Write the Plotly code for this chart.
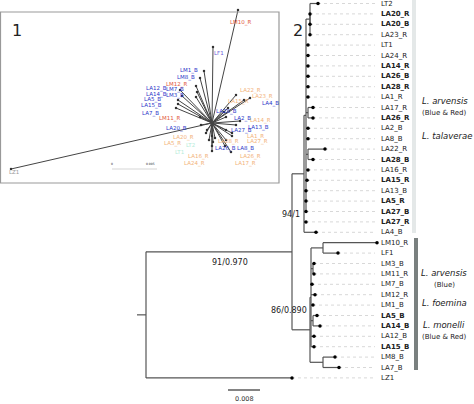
import plotly.graph_objects as go

# ---- Panel 2: tree (node x positions on distance scale, leaves in order) ----
# leaf: (name, x) ; internal: (x, [children])
tree = (146, [
    (292, [
        (304, [
            (306, [
                (310, [("LT2", 318), (310, [("LA20_R", 310), ("LA20_B", 310)]), ("LA23_R", 310)]),
                ("LT1", 308), ("LA24_R", 308), ("LA14_R", 308), ("LA26_B", 308), ("LA28_R", 308),
                ("LA1_R", 308), (308, [("LA17_R", 313), ("LA26_R", 313)]), ("LA2_B", 308), ("LA8_B", 308),
                (308, [("LA22_R", 325), ("LA28_B", 313)]), ("LA16_R", 308), ("LA15_R", 307),
                ("LA13_B", 306), ("LA5_R", 306), ("LA27_B", 306),
            ]),
            ("LA27_R", 306), ("LA4_B", 316),
        ]),
        (310, [
            (311, [
                (323, [("LM10_R", 377), ("LF1", 338)]),
                (313, [("LM3_B", 314), ("LM11_R", 314)]),
                ("LM7_B", 312), ("LM12_R", 315), ("LM1_B", 313),
                (313, [("LA5_B", 317), ("LA14_B", 320)]),
                ("LA12_B", 314), ("LA15_B", 314),
            ]),
            (323, [("LM8_B", 335), ("LA7_B", 339)]),
        ]),
    ]),
    ("LZ1", 292),
])
bold = {"LA20_R", "LA20_B", "LA14_R", "LA26_B", "LA28_R", "LA26_R", "LA28_B", "LA15_R",
        "LA5_R", "LA27_B", "LA27_R", "LA5_B", "LA14_B", "LA15_B"}
y_top, y_step = 3.5, 10.4
label_x = 379

# ---- Panel 1: network (endpoints in network space, label colours) ----
hub = (212, 123)
net_names = ["LM10_R", "LF1", "LM1_B", "LM8_B", "LM12_R", "LA12_B", "LM7_B", "LA14_B", "LM3_B",
             "LA5_B", "LA15_B", "LA7_B", "LM11_R", "LA20_B", "LA20_R", "LA5_R", "LT2", "LT1",
             "LA28_B", "LA22_R", "LA23_R", "LA4_B", "LA15_R", "LA2_B", "LA14_R", "LA13_B",
             "LA27_B", "LA1_R", "LA27_R", "LA28_R", "LA26_B", "LA8_B", "LA16_R", "LA26_R",
             "LA24_R", "LA17_R", "LZ1"]
net_ex = [238, 213, 204, 200, 196, 180, 197, 182, 196, 178, 178, 176, 200, 201, 207, 206, 212,
          209, 224, 236, 244, 250, 228, 226, 240, 236, 226, 232, 232, 215, 213, 226, 212, 225,
          212, 231, 11]
net_ey = [10, 47, 71, 78, 86, 90, 92, 96, 97, 100, 104, 108, 117, 125, 130, 133, 136, 140, 112,
          95, 100, 98, 108, 117, 121, 125, 130, 133, 136, 138, 142, 140, 146, 146, 151, 152, 169]
net_lx = [228, 212, 200, 197, 190, 169, 186, 169, 186, 163, 164, 161, 183, 189, 196, 183, 197,
          186, 214, 238, 250, 260, 226, 232, 248, 246, 229, 245, 245, 216, 213, 235, 211, 238,
          207, 233, 21]
net_ly = [22, 53, 70, 77, 84, 88, 89, 94, 95, 99, 105, 113, 118, 128, 137, 143, 145, 152, 111,
          90, 96, 103, 101, 118, 120, 127, 130, 136, 141, 141, 148, 148, 156, 156, 163, 163, 172]
BLUE, ORANGE, RED, GREEN, GRAY = "#2a35c8", "#f2b27a", "#e2583c", "#b4ecd8", "#999999"
net_col = [RED, "#6a5ad8", BLUE, BLUE, RED, BLUE, BLUE, BLUE, BLUE, BLUE, BLUE, BLUE, RED, BLUE,
           ORANGE, ORANGE, GREEN, GREEN, BLUE, ORANGE, ORANGE, BLUE, ORANGE, BLUE, ORANGE, BLUE,
           BLUE, ORANGE, ORANGE, ORANGE, BLUE, BLUE, ORANGE, ORANGE, ORANGE, ORANGE, GRAY]

# ---- layout of tree ----
lines_x, lines_y, dots_x, dots_y, guide_x, guide_y, labels = [], [], [], [], [], [], []
counter = [0]

def layout(node, parent_x):
    if isinstance(node[0], str):
        name, x = node
        y = y_top + counter[0] * y_step
        counter[0] += 1
        lines_x.extend([parent_x, x, None]); lines_y.extend([y, y, None])
        dots_x.append(x); dots_y.append(y)
        guide_x.extend([x, label_x - 4, None]); guide_y.extend([y, y, None])
        labels.append((name, y))
        return y
    x, kids = node
    ys = [layout(k, x) for k in kids]
    y = (ys[0] + ys[-1]) / 2
    lines_x.extend([x, x, None]); lines_y.extend([ys[0], ys[-1], None])
    lines_x.extend([parent_x, x, None]); lines_y.extend([y, y, None])
    return y

layout(tree, 137)

fig = go.Figure()
fig.add_trace(go.Scatter(x=guide_x, y=guide_y, mode="lines", line=dict(color="#d8d8d8", width=1, dash="dot"), hoverinfo="skip"))
fig.add_trace(go.Scatter(x=lines_x, y=lines_y, mode="lines", line=dict(color="#555555", width=1.2), hoverinfo="skip"))
fig.add_trace(go.Scatter(x=dots_x, y=dots_y, mode="markers", marker=dict(color="black", size=3.5), hoverinfo="skip"))

ann = []
for name, y in labels:
    t = f"<b>{name}</b>" if name in bold else name
    ann.append(dict(x=label_x, y=y, text=t, showarrow=False, xanchor="left", yanchor="middle",
                    font=dict(size=7, color="#222", family="DejaVu Sans")))

# network lines
nx, ny = [], []
for ex, ey in zip(net_ex, net_ey):
    nx.extend([hub[0], ex, None]); ny.extend([hub[1], ey, None])
fig.add_trace(go.Scatter(x=nx, y=ny, mode="lines", line=dict(color="#444444", width=1), hoverinfo="skip"))
fig.add_trace(go.Scatter(x=net_ex, y=net_ey, mode="markers", marker=dict(color="#333", size=2.5), hoverinfo="skip"))
for n, lx, ly, c in zip(net_names, net_lx, net_ly, net_col):
    ann.append(dict(x=lx, y=ly, text=n, showarrow=False, xanchor="right" if lx < 212 else "left",
                    yanchor="middle", font=dict(size=5.5, color=c, family="DejaVu Sans")))

def txt(x, y, t, size=8, anchor="center", italic=False, color="#222"):
    if italic:
        t = f"<i>{t}</i>"
    ann.append(dict(x=x, y=y, text=t, showarrow=False, xanchor=anchor, yanchor="middle",
                    font=dict(size=size, color=color, family="DejaVu Sans")))

txt(10, 30, "1", 16, "left")
txt(291, 30, "2", 16, "left")
txt(302, 214, "94/1", 8, "right")
txt(230, 262, "91/0.970", 8)
txt(309, 310, "86/0.890", 8, "right")
txt(244, 399, "0.008", 6.5, color="#333")
txt(420, 101, "L. arvensis", 8.5, "left", True)
txt(420, 113, "(Blue & Red)", 7, "left")
txt(420, 136, "L. talaverae", 8.5, "left", True)
txt(444, 273, "L. arvensis", 8.5, "center", True)
txt(444, 285, "(Blue)", 7, "center")
txt(444, 303, "L. foemina", 8.5, "center", True)
txt(444, 325, "L. monelli", 8.5, "center", True)
txt(444, 337, "(Blue & Red)", 7, "center")
txt(112, 164, "0", 3)
txt(150, 164, "0.005", 3)

shapes = [
    dict(type="rect", x0=0.5, x1=279, y0=12, y1=183, line=dict(color="#999", width=1.2)),
    dict(type="rect", x0=412, x1=416, y0=0, y1=233, fillcolor="#e4e8e8", line=dict(width=0)),
    dict(type="rect", x0=414, x1=418, y0=238, y1=370, fillcolor="#7a807f", line=dict(width=0)),
    dict(type="line", x0=228, x1=260, y0=390, y1=390, line=dict(color="#333", width=1.2)),
    dict(type="line", x0=112, x1=157, y0=169, y1=169, line=dict(color="#bbb", width=0.6)),
]

fig.update_layout(width=474, height=404, margin=dict(l=0, r=0, t=0, b=0), showlegend=False,
                  plot_bgcolor="white", paper_bgcolor="white", annotations=ann, shapes=shapes,
                  xaxis=dict(range=[0, 474], visible=False, fixedrange=True),
                  yaxis=dict(range=[404, 0], visible=False, fixedrange=True))
fig.write_html("out.html", config={"displayModeBar": False},
               post_script="document.body.style.margin='0';document.body.style.overflow='hidden';")
